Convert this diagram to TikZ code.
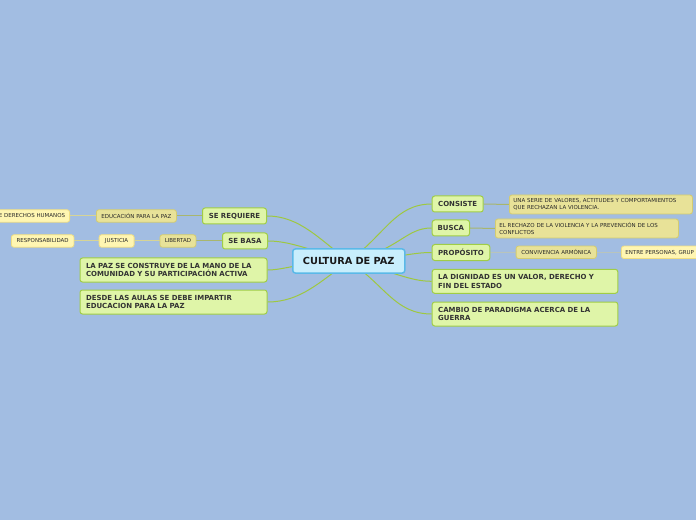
\documentclass[tikz,border=0pt]{standalone}
\usepackage{fontspec}
\setmainfont{DejaVu Sans}
\pgfdeclarelayer{bg}
\pgfdeclarelayer{edges}
\pgfsetlayers{bg,edges,main}
\definecolor{bgc}{RGB}{162,189,226}
\definecolor{cfill}{RGB}{200,238,252}
\definecolor{cdraw}{RGB}{90,185,232}
\definecolor{gfill}{RGB}{223,245,168}
\definecolor{gdraw}{RGB}{160,205,70}
\definecolor{gline}{RGB}{158,200,64}
\definecolor{yfill}{RGB}{232,226,152}
\definecolor{ydraw}{RGB}{212,204,112}
\definecolor{lyfill}{RGB}{255,246,178}
\definecolor{lydraw}{RGB}{240,222,130}
\definecolor{oline}{RGB}{168,182,110}
\definecolor{pline}{RGB}{214,212,150}
\definecolor{gyline}{RGB}{184,196,188}
\definecolor{txt}{RGB}{51,51,51}
\definecolor{stxt}{RGB}{40,40,40}
\tikzset{
  box/.style={rounded corners=2.5bp, inner ysep=0pt, anchor=west, text=txt},
  cnode/.style={box, fill=cfill, draw=cdraw, line width=1.5bp, inner xsep=5bp, align=center,
    font=\bfseries\fontsize{9.8}{11}\selectfont, text=black!90},
  gnode/.style={box, fill=gfill, draw=gdraw, line width=1bp, inner xsep=5bp, minimum height=16bp,
    font=\bfseries\fontsize{7}{8.7}\selectfont},
  gwide/.style={gnode, align=left, inner xsep=6bp, minimum height=24bp},
  ynode/.style={box, fill=yfill, draw=ydraw, line width=0.8bp, inner xsep=3bp, minimum height=12.5bp,
    font=\fontsize{5.5}{6.7}\selectfont, text=stxt},
  lynode/.style={ynode, fill=lyfill, draw=lydraw},
  gedge/.style={draw=gline, line width=1bp},
  oedge/.style={draw=oline, line width=1bp},
  pedge/.style={draw=pline, line width=1bp},
  gyedge/.style={draw=gyline, line width=1bp}
}
\begin{document}
\begin{tikzpicture}[x=1bp,y=-1bp]
\useasboundingbox (0,0) rectangle (696,520);
\begin{pgfonlayer}{bg}
\fill[bgc] (0,0) rectangle (696,520);
\end{pgfonlayer}
\clip (0,0) rectangle (696,520);
% central
\node[cnode, text width=102bp, minimum height=24bp] (c) at (292,261) {CULTURA DE PAZ};
% left
\node[gnode, text width=54bp, align=center] (sereq) at (202,216) {SE REQUIERE};
\node[ynode, text width=74bp, align=center] (educ) at (96,216) {EDUCACIÓN PARA LA PAZ};
\node[lynode, anchor=east, text width=84bp, align=right, inner xsep=4.5bp] (dh) at (70,216) {E DERECHOS HUMANOS};
\node[gnode, text width=35bp, align=center] (sebasa) at (222,241) {SE BASA};
\node[ynode, text width=30bp, align=center] (lib) at (159.5,241) {LIBERTAD};
\node[lynode, text width=29bp, align=center] (jus) at (98.7,241) {JUSTICIA};
\node[lynode, text width=56.5bp, align=center] (resp) at (11,241) {RESPONSABILIDAD};
\node[gwide, text width=175bp] (lapaz) at (79.5,270) {LA PAZ SE CONSTRUYE DE LA MANO DE LA\\COMUNIDAD Y SU PARTICIPACIÓN ACTIVA};
\node[gwide, text width=175bp] (desde) at (79.5,302) {DESDE LAS AULAS SE DEBE IMPARTIR\\EDUCACION PARA LA PAZ};
% right
\node[gnode, text width=41bp, align=center] (cons) at (431.7,204) {CONSISTE};
\node[ynode, text width=175bp, align=left, inner xsep=4bp, minimum height=19bp] (una) at (509,204.5) {UNA SERIE DE VALORES, ACTITUDES Y COMPORTAMIENTOS\\QUE RECHAZAN LA VIOLENCIA.};
\node[gnode, text width=27.3bp, align=center] (busca) at (431.7,228) {BUSCA};
\node[ynode, text width=175bp, align=left, inner xsep=4bp, minimum height=19bp] (rech) at (495,228.5) {EL RECHAZO DE LA VIOLENCIA Y LA PREVENCIÓN DE LOS\\CONFLICTOS};
\node[gnode, text width=47.6bp, align=center] (prop) at (431.7,252.5) {PROPÓSITO};
\node[ynode, text width=74.3bp, align=center] (conv) at (515.7,252.3) {CONVIVENCIA ARMÓNICA};
\node[lynode, text width=92bp, align=left, inner xsep=4bp] (entre) at (621,252.3) {ENTRE PERSONAS, GRUP};
\node[gwide, text width=173.6bp] (dig) at (431.7,281.3) {LA DIGNIDAD ES UN VALOR, DERECHO Y\\FIN DEL ESTADO};
\node[gwide, text width=173.6bp] (camb) at (431.7,314) {CAMBIO DE PARADIGMA ACERCA DE LA\\GUERRA};
% connectors
\begin{pgfonlayer}{edges}
\draw[gedge] (c.center) .. controls (320,240) and (300,216) .. (sereq.east);
\draw[gedge] (c.center) .. controls (310,250) and (290,241) .. (sebasa.east);
\draw[gedge] (c.center) .. controls (300,262) and (285,270) .. (lapaz.east);
\draw[gedge] (c.center) .. controls (320,282) and (300,302) .. (desde.east);
\draw[gedge] (c.center) .. controls (385,235) and (395,204) .. (cons.west);
\draw[gedge] (c.center) .. controls (400,250) and (405,228) .. (busca.west);
\draw[gedge] (c.center) .. controls (400,258) and (410,252.5) .. (prop.west);
\draw[gedge] (c.center) .. controls (395,272) and (410,281.3) .. (dig.west);
\draw[gedge] (c.center) .. controls (385,285) and (395,314) .. (camb.west);
\draw[oedge] (sereq.west) -- (educ.east);
\draw[pedge] (educ.west) -- (dh.east);
\draw[oedge] (sebasa.west) -- (lib.east);
\draw[pedge] (lib.west) -- (jus.east);
\draw[pedge] (jus.west) -- (resp.east);
\draw[oedge] (cons.east) -- (una.west);
\draw[oedge] (busca.east) -- (rech.west);
\draw[gyedge] (prop.east) -- (conv.west);
\draw[gyedge] (conv.east) -- (entre.west);
\end{pgfonlayer}
\end{tikzpicture}
\end{document}
